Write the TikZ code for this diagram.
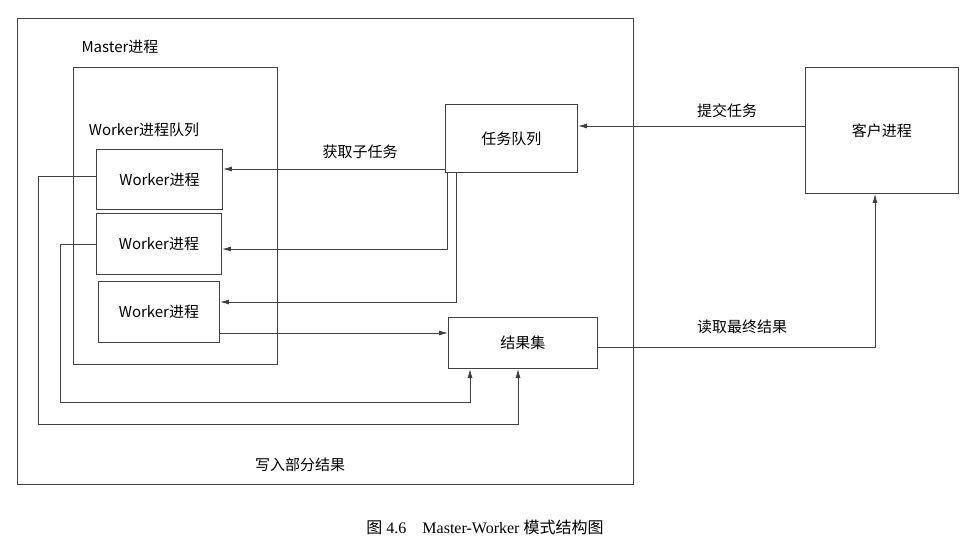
\documentclass[tikz,border=0pt]{standalone}
\usepackage{fontspec}
\setmainfont{Liberation Serif}
\newfontfamily\cjk{Noto Sans CJK SC}
\usetikzlibrary{arrows.meta}
\begin{document}
\begin{tikzpicture}[x=1pt,y=-1pt,line width=0.9pt,draw=black!75,
  bx/.style={draw=black!75,minimum width=0pt,inner sep=0pt},
  lab/.style={font=\fontsize{15}{17}\selectfont\cjk},
  arr/.style={-{Latex[length=9pt,width=5pt]}}]
\useasboundingbox (0,0) rectangle (973,559);
\node[bx,minimum width=616,minimum height=466,anchor=north west] (outer) at (17,18) {};
\node[bx,minimum width=204,minimum height=297,anchor=north west] (master) at (73,67) {};
\node[bx,minimum width=126,minimum height=60,anchor=north west,lab] (w1) at (96,149) {Worker进程};
\node[bx,minimum width=125,minimum height=61,anchor=north west,lab] (w2) at (96,213) {Worker进程};
\node[bx,minimum width=121,minimum height=61,anchor=north west,lab] (w3) at (98,281) {Worker进程};
\node[bx,minimum width=132,minimum height=68,anchor=north west,lab] (tq) at (445,104) {任务队列};
\node[bx,minimum width=153,minimum height=126,anchor=north west,lab] (cl) at (805,67) {客户进程};
\node[bx,minimum width=149,minimum height=51,anchor=north west,lab] (rs) at (448,317) {结果集};
\node[lab] (l1) at (120,47) {Master进程};
\node[lab] (l2) at (144,130) {Worker进程队列};
\node[lab] (l3) at (727,111) {提交任务};
\node[lab] (l4) at (360,152) {获取子任务};
\node[lab] (l5) at (742,327) {读取最终结果};
\node[lab] (l6) at (300,465) {写入部分结果};
\node[font=\fontsize{16}{18}\selectfont] (cap) at (485,527) {{\cjk 图} 4.6\quad Master-Worker {\cjk 模式结构图}};
\coordinate (c1) at (447,172);
\coordinate (c2) at (456,172);
\draw[arr] (cl.west |- 0,126) -- (tq.east |- 0,126);
\draw[arr] (tq.west |- 0,169) -- (w1.east |- 0,169);
\draw[arr] (c1) -- (447,249) -- (w2.east |- 0,249);
\draw[arr] (c2) -- (456,302) -- (w3.east |- 0,302);
\draw[arr] (w3.east |- 0,333) -- (rs.west |- 0,333);
\draw[arr] (w1.west |- 0,176) -- (38,176) -- (38,424) -- (518,424) -- (rs.south -| 518,0);
\draw[arr] (w2.west |- 0,244) -- (60,244) -- (60,402) -- (470,402) -- (rs.south -| 470,0);
\draw[arr] (rs.east |- 0,347) -- (875,347) -- (cl.south -| 875,0);
\end{tikzpicture}
\end{document}
